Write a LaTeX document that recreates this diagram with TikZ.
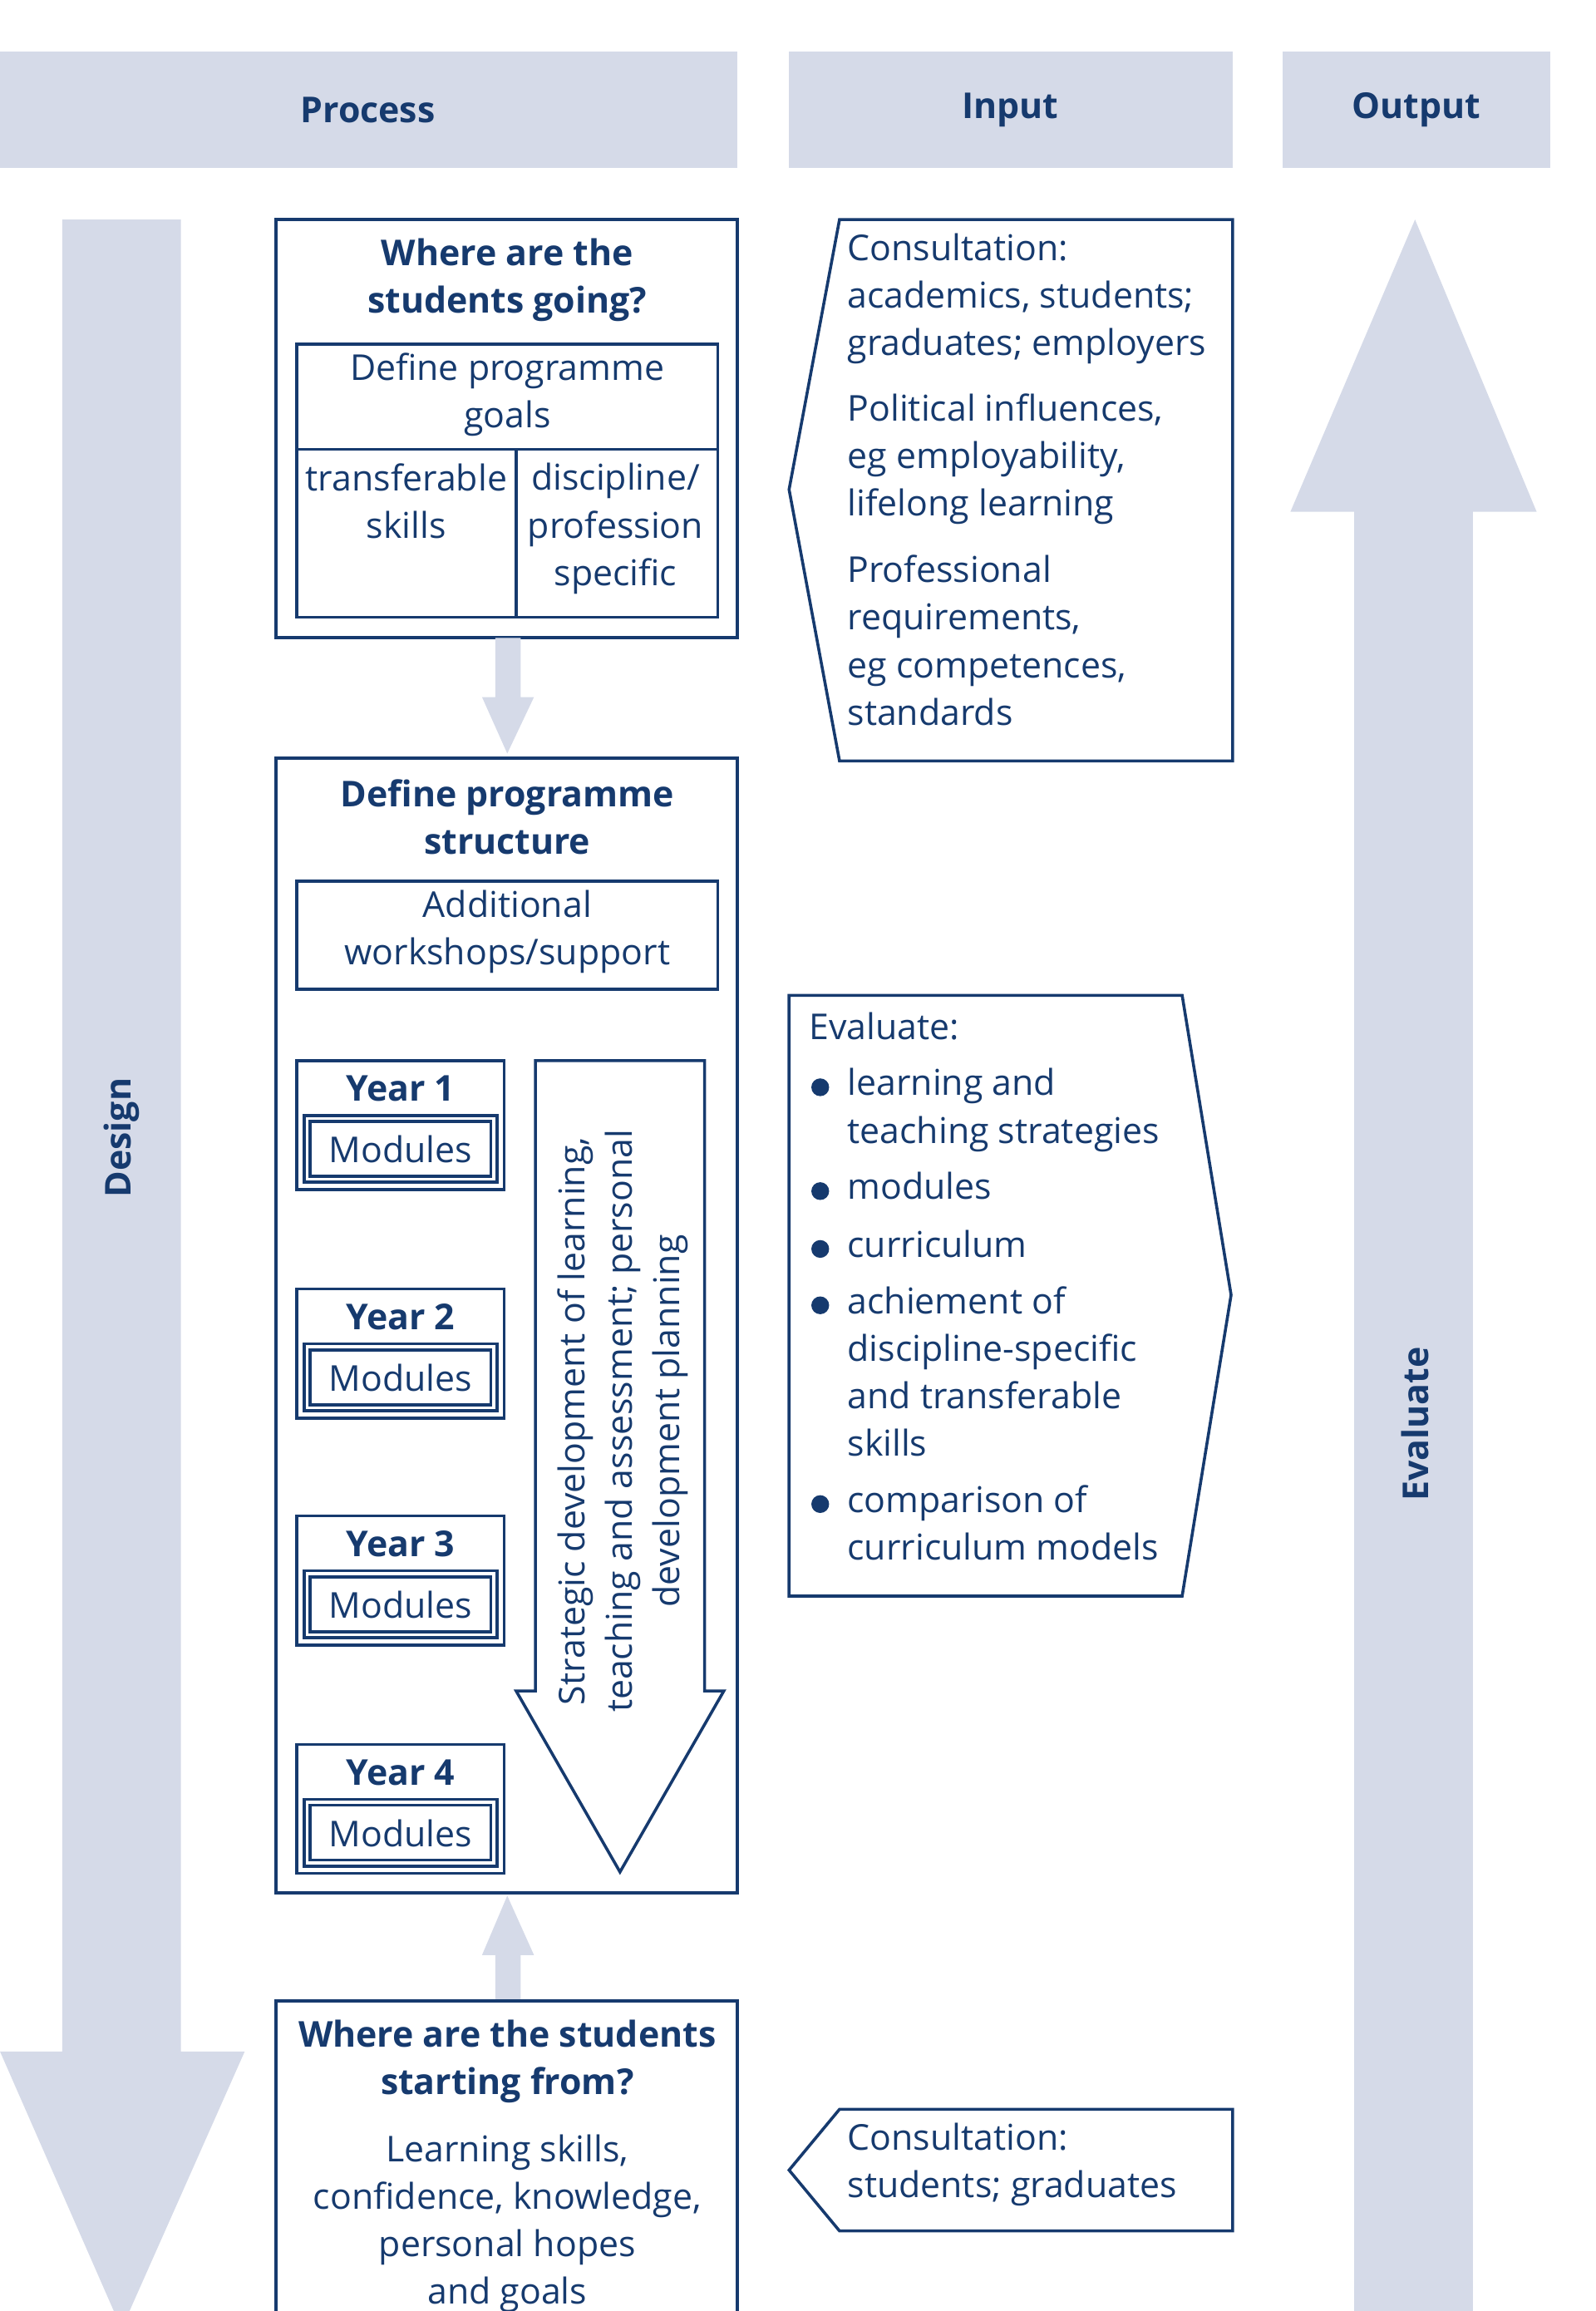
\documentclass[tikz,border=0pt]{standalone}
\usepackage{fontspec}
\setmainfont{Open Sans}
\begin{document}
\definecolor{navy}{HTML}{163A6E}
\definecolor{pale}{HTML}{D5DAE8}
\begin{tikzpicture}[x=0.5pt,y=-0.5pt,
  txt/.style={text=navy,font=\fontsize{12}{16}\selectfont,inner sep=0pt,align=center},
  btxt/.style={txt,font=\fontsize{12}{16}\selectfont\bfseries},
  box/.style={draw=navy,line width=1pt},
  bar/.style={fill=pale,draw=none}]
\useasboundingbox (0,0) rectangle (1076,1558);
\begin{scope}
\clip (0,0) rectangle (1076,1558);
% headers
\fill[bar] (0,35) rectangle (497,113);
\fill[bar] (532,35) rectangle (831,113);
\fill[bar] (865,35) rectangle (1045,113);
\node[btxt] (hp) at (248,74) {Process};
\node[btxt] (hi) at (681,74) {Input};
\node[btxt] (ho) at (955,74) {Output};
% design arrow
\fill[bar] (42,148) -- (122,148) -- (122,1383) -- (165,1383) -- (82,1570) -- (0,1383) -- (42,1383) -- cycle;
\node[btxt,rotate=90] (design) at (82,767) {Design};
% evaluate arrow
\fill[bar] (913,1560) -- (913,345) -- (870,345) -- (954,148) -- (1036,345) -- (993,345) -- (993,1560) -- cycle;
\node[btxt,rotate=90] (evl) at (954,960) {Evaluate};
% box 1
\draw[box] (186,148) rectangle (497,430);
\node[btxt] (t1) at (342,189) {Where are the\\students going?};
\draw[box] (200,232) rectangle (484,416);
\draw[box] (200,303) -- (484,303);
\draw[box] (348,303) -- (348,416);
\node[txt] (g1) at (342,266) {Define programme\\goals};
\node[txt,anchor=north] (ts) at (274,312) {transferable\\skills};
\node[txt,anchor=north] (dp) at (415,312) {discipline/\\profession\\specific};
% connector 1->2
\fill[pale] (334,430) -- (351,430) -- (351,470) -- (360,470) -- (342,508) -- (325,470) -- (334,470) -- cycle;
% box 2
\draw[box] (186,511) rectangle (497,1276);
\node[btxt] (t2) at (342,551) {Define programme\\structure};
\draw[box] (200,594) rectangle (484,667);
\node[txt] (aw) at (342,628) {Additional\\workshops/support};
\foreach \n/\y in {1/715,2/869,3/1022,4/1176}{
  \draw[box] (200,\y) rectangle (340,\y+87);
  \node[btxt] (y\n) at (270,\y+19) {Year \n};
  \draw[box] (205,\y+37) rectangle (335,\y+82);
  \draw[box] (209,\y+41) rectangle (331,\y+78);
  \node[txt] (m\n) at (270,\y+60) {Modules};
}
\draw[box,fill=white] (361,715) -- (475,715) -- (475,1140) -- (488,1140) -- (418,1262) -- (348,1140) -- (361,1140) -- cycle;
\node[txt,rotate=90] (sd) at (420,958) {Strategic development of learning,\\teaching and assessment; personal\\development planning};
% connector 3->2
\fill[pale] (334,1349) -- (351,1349) -- (351,1318) -- (360,1318) -- (342,1278) -- (325,1318) -- (334,1318) -- cycle;
% box 3
\draw[box] (186,1349) rectangle (497,1600);
\node[btxt] (t3) at (342,1390) {Where are the students\\starting from?};
\node[txt] (ls) at (342,1499) {Learning skills,\\confidence, knowledge,\\personal hopes\\and goals};
% input 1
\draw[box] (566,148) -- (831,148) -- (831,513) -- (566,513) -- (532,330) -- cycle;
\node[txt,align=left,anchor=north west] (c1) at (571,157) {Consultation:\\academics, students;\\graduates; employers};
\node[txt,align=left,anchor=north west] (c2) at (571,265) {Political influences,\\eg employability,\\lifelong learning};
\node[txt,align=left,anchor=north west] (c3) at (571,374) {Professional\\requirements,\\eg competences,\\standards};
% evaluate box
\draw[box] (532,671) -- (797,671) -- (830,873) -- (797,1076) -- (532,1076) -- cycle;
\node[txt,align=left,anchor=north west] (ev) at (545,682) {Evaluate:};
\foreach \y/\t in {720/{learning and\\teaching strategies},790/{modules},829/{curriculum},867/{achiement of\\discipline-specific\\and transferable\\skills},1001/{comparison of\\curriculum models}}{
  \fill[navy] (553,\y+13) circle (6);
  \node[txt,align=left,anchor=north west] at (571,\y) {\t};
}
% consultation bottom
\draw[box] (566,1422) -- (831,1422) -- (831,1504) -- (566,1504) -- (532,1463) -- cycle;
\node[txt,align=left,anchor=north west] (cb) at (571,1431) {Consultation:\\students; graduates};
\end{scope}
\end{tikzpicture}
\end{document}
